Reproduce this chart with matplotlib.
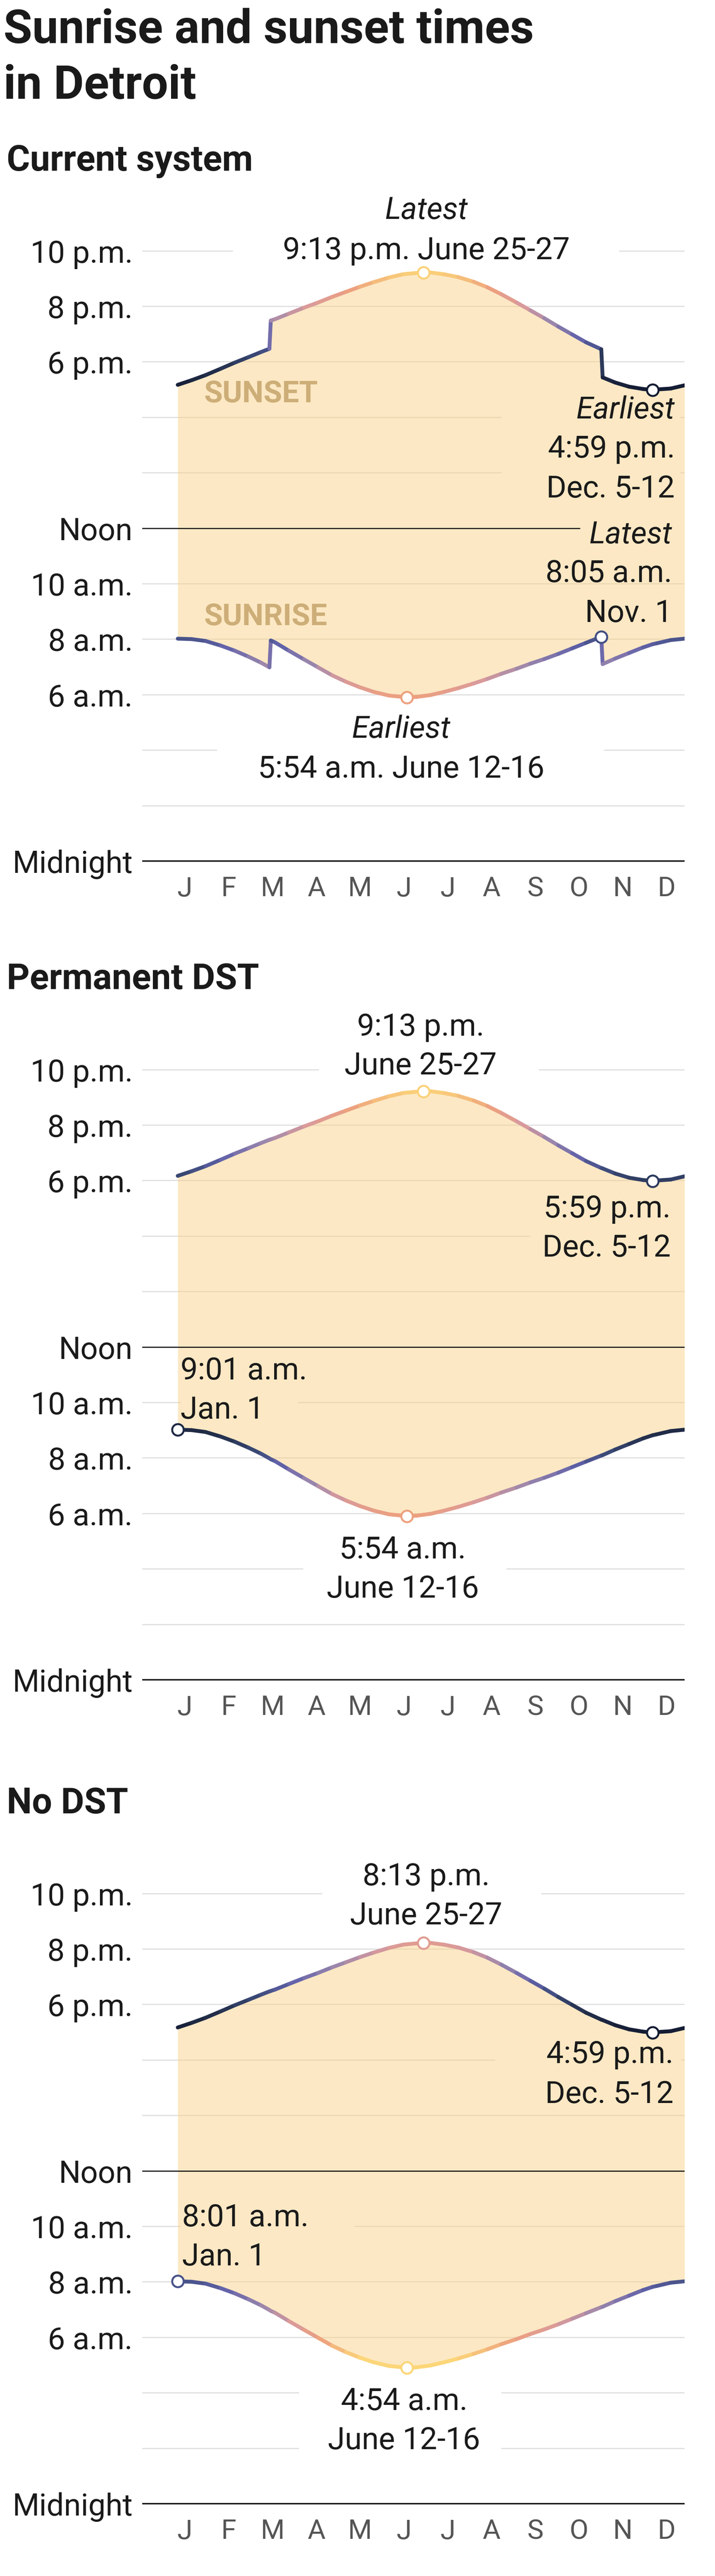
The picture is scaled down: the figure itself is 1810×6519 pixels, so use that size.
import numpy as np
import pandas as pd
import matplotlib
matplotlib.use('Agg')
import matplotlib.pyplot as plt
import matplotlib.dates as mdates
from matplotlib.collections import LineCollection
from matplotlib.colors import LinearSegmentedColormap, Normalize

plt.rcParams['font.family'] = ['Roboto', 'DejaVu Sans']

# Data: Detroit sunrise / sunset in standard time (EST)
dates = ['2020-01-01', '2020-01-11', '2020-01-21', '2020-02-01', '2020-02-11', '2020-02-21',
         '2020-03-01', '2020-03-07', '2020-03-08', '2020-03-11', '2020-03-21', '2020-04-01',
         '2020-04-11', '2020-04-21', '2020-05-01', '2020-05-11', '2020-05-21', '2020-06-01',
         '2020-06-11', '2020-06-14', '2020-06-21', '2020-06-26', '2020-07-01', '2020-07-11',
         '2020-07-21', '2020-08-01', '2020-08-11', '2020-08-21', '2020-09-01', '2020-09-11',
         '2020-09-21', '2020-10-01', '2020-10-11', '2020-10-21', '2020-11-01', '2020-11-02',
         '2020-11-11', '2020-11-21', '2020-12-01', '2020-12-08', '2020-12-11', '2020-12-21',
         '2020-12-31']
sunrise_est = ['8:01', '8:00', '7:56', '7:46', '7:35', '7:22',
               '7:09', '6:59', '6:57', '6:53', '6:35', '6:16',
               '5:59', '5:42', '5:28', '5:16', '5:06', '4:58',
               '4:55', '4:54', '4:55', '4:57', '4:59', '5:06',
               '5:14', '5:24', '5:34', '5:45', '5:56', '6:07',
               '6:17', '6:28', '6:40', '6:52', '7:05', '7:06',
               '7:18', '7:30', '7:42', '7:49', '7:51', '7:58',
               '8:01']
sunset_est = ['17:10', '17:20', '17:31', '17:45', '17:58', '18:10',
              '18:21', '18:28', '18:29', '18:32', '18:44', '18:57',
              '19:08', '19:20', '19:31', '19:42', '19:52', '20:02',
              '20:09', '20:10', '20:12', '20:13', '20:13', '20:09',
              '20:03', '19:53', '19:41', '19:26', '19:08', '18:51',
              '18:34', '18:16', '17:59', '17:42', '17:27', '17:26',
              '17:15', '17:06', '17:01', '16:59', '17:00', '17:02',
              '17:09']
dst_start = '2020-03-08'
dst_end = '2020-11-01'

month_labels = ['J', 'F', 'M', 'A', 'M', 'J', 'J', 'A', 'S', 'O', 'N', 'D']
hour_ticks = [22, 20, 18, 12, 10, 8, 6, 0]
hour_labels = ['10 p.m.', '8 p.m.', '6 p.m.', 'Noon', '10 a.m.', '8 a.m.', '6 a.m.', 'Midnight']


def to_hours(s):
    h, m = s.split(':')
    return int(h) + int(m) / 60


t = pd.to_datetime(dates)
x = mdates.date2num(t)
rise = np.array([to_hours(s) for s in sunrise_est])
sset = np.array([to_hours(s) for s in sunset_est])
in_dst = ((t >= pd.Timestamp(dst_start)) & (t <= pd.Timestamp(dst_end))).astype(float)

panels = [
    ('Current system', rise + in_dst, sset + in_dst),
    ('Permanent DST', rise + 1, sset + 1),
    ('No DST', rise, sset),
]

# circles: (which curve, date)
circles = [
    [('set', '2020-06-26'), ('set', '2020-12-08'), ('rise', '2020-06-14'), ('rise', '2020-11-01')],
    [('set', '2020-06-26'), ('set', '2020-12-08'), ('rise', '2020-01-01'), ('rise', '2020-06-14')],
    [('set', '2020-06-26'), ('set', '2020-12-08'), ('rise', '2020-01-01'), ('rise', '2020-06-14')],
]

# annotation blocks: x date, alignment, [(text, y, italic)]
notes = [
    [('2020-06-28', 'center', [('Latest', 23.15, True), ('9:13 p.m. June 25-27', 21.70, False)]),
     ('2020-12-24', 'right', [('Earliest', 15.96, True), ('4:59 p.m.', 14.54, False), ('Dec. 5-12', 13.10, False)]),
     ('2020-12-22', 'right', [('Latest', 11.45, True), ('8:05 a.m.', 10.05, False), ('Nov. 1', 8.62, False)]),
     ('2020-06-10', 'center', [('Earliest', 4.44, True), ('5:54 a.m. June 12-16', 3.01, False)])],
    [('2020-06-24', 'center', [('9:13 p.m.', 23.22, False), ('June 25-27', 21.83, False)]),
     ('2020-12-21', 'right', [('5:59 p.m.', 16.67, False), ('Dec. 5-12', 15.25, False)]),
     ('2020-01-03', 'left', [('9:01 a.m.', 10.82, False), ('Jan. 1', 9.42, False)]),
     ('2020-06-11', 'center', [('5:54 a.m.', 4.37, False), ('June 12-16', 2.96, False)])],
    [('2020-06-28', 'center', [('8:13 p.m.', 22.29, False), ('June 25-27', 20.89, False)]),
     ('2020-12-23', 'right', [('4:59 p.m.', 15.89, False), ('Dec. 5-12', 14.44, False)]),
     ('2020-01-04', 'left', [('8:01 a.m.', 10.0, False), ('Jan. 1', 8.59, False)]),
     ('2020-06-12', 'center', [('4:54 a.m.', 3.37, False), ('June 12-16', 1.96, False)])],
]

# gaps in gridlines behind labels (axes fraction)
grid_gaps = [
    {22: [(0.166, 0.880)], 16: [(0.661, 0.993)], 14: [(0.661, 0.993)], 12: [(0.806, 1.0)],
     4: [(0.137, 0.852)]},
    {22: [(0.325, 0.732)], 16: [(0.714, 1.0)], 10: [(0.070, 0.288)], 4: [(0.296, 0.672)]},
    {22: [(0.331, 0.736)], 16: [(0.650, 0.994)], 10: [(0.070, 0.392)], 4: [(0.288, 0.663)],
     2: [(0.288, 0.663)]},
]

# layout (pixels of the 1810 x 6519 output)
W, H = 1810, 6519
HOUR = 70.2
midnights = [2179, 4251, 6336]
ax_left, ax_right = 360, 1733

stops = [(17.0, '#141c33'), (17.8, '#26324f'), (18.3, '#3b4a78'), (18.8, '#6262aa'),
         (19.4, '#9a86ac'), (20.0, '#d89a9c'), (20.6, '#eda07f'), (21.3, '#fcd678')]
vmin, vmax = stops[0][0], stops[-1][0]
cmap = LinearSegmentedColormap.from_list(
    'daylight', [((v - vmin) / (vmax - vmin), c) for v, c in stops])
norm = Normalize(vmin, vmax, clip=True)


def shade(kind, y):
    # later sunsets and earlier sunrises get warmer colours
    v = y if kind == 'set' else 26.5 - y
    return cmap(norm(v))


def gradient_line(ax, xs, ys, kind):
    pts = np.column_stack([xs, ys])
    segs = np.stack([pts[:-1], pts[1:]], axis=1)
    mid = (ys[:-1] + ys[1:]) / 2
    lc = LineCollection(segs, colors=[shade(kind, m) for m in mid], linewidths=7,
                        capstyle='round', joinstyle='round', zorder=5)
    ax.add_collection(lc)


def grid(ax, gaps):
    for h in range(0, 24, 2):
        if h in (0, 12):
            kw = dict(color='#111111', lw=2.6 if h == 0 else 2.0, zorder=3)
        else:
            kw = dict(color='#dcdcdc', lw=1.9, zorder=1)
        start = 0
        for g0, g1 in gaps.get(h, []):
            if g0 > start:
                ax.axhline(h, start, g0, **kw)
            start = g1
        if start < 1:
            ax.axhline(h, start, 1, **kw)


fig = plt.figure(figsize=(W / 100, H / 100), dpi=100)
fig.patch.set_facecolor('white')

fig.text(9 / W, 1 - 109 / H, 'Sunrise and sunset times', fontsize=85, fontweight='bold',
         color='#1a1a1a', va='baseline')
fig.text(9 / W, 1 - 250 / H, 'in Detroit', fontsize=85, fontweight='bold',
         color='#1a1a1a', va='baseline')

title_base = [432, 2503, 4589]
x0 = mdates.date2num(pd.Timestamp('2020-01-01'))
x1 = mdates.date2num(pd.Timestamp('2020-12-31'))
px_per_day = (ax_right - 450) / (x1 - x0)
month_x = x0 + np.linspace(5, 352, 12)

for i, (name, r, s) in enumerate(panels):
    bottom = midnights[i] + 1.5 * HOUR
    ax = fig.add_axes([ax_left / W, 1 - bottom / H, (ax_right - ax_left) / W, 25.5 * HOUR / H])
    ax.set_xlim(x0 - (450 - ax_left) / px_per_day, x1)
    ax.set_ylim(-1.5, 24)
    ax.set_axis_off()

    fig.text(17 / W, 1 - title_base[i] / H, name, fontsize=65, fontweight='bold',
             color='#1a1a1a', va='baseline')

    grid(ax, grid_gaps[i])
    ax.fill_between(x, r, s, color='#fbd28a', alpha=0.5, lw=0, zorder=2)

    gradient_line(ax, x, s, 'set')
    gradient_line(ax, x, r, 'rise')

    for kind, d in circles[i]:
        k = list(t).index(pd.Timestamp(d))
        y = s[k] if kind == 'set' else r[k]
        ax.plot(x[k], y, 'o', ms=21, mfc='white', mec=shade(kind, y), mew=3.6, zorder=7)

    for h, lab in zip(hour_ticks, hour_labels):
        ax.text(-0.0175, h - 0.12, lab, transform=ax.get_yaxis_transform(), ha='right',
                va='center', fontsize=56, color='#1a1a1a')

    for mx, m in zip(month_x, month_labels):
        ax.text(mx, -1.0, m, ha='center', va='center', fontsize=50, color='#555555')

    for d, ha, lines in notes[i]:
        xd = mdates.date2num(pd.Timestamp(d))
        for txt, y, it in lines:
            ax.text(xd, y, txt, ha=ha, va='baseline', fontsize=56, color='#1a1a1a',
                    fontstyle='italic' if it else 'normal', zorder=8)

    if i == 0:
        lab_x = mdates.date2num(pd.Timestamp('2020-01-20'))
        ax.text(lab_x, 16.54, 'SUNSET', fontsize=55, fontweight='bold', color='#cdae78',
                va='baseline', ha='left', zorder=8)
        ax.text(lab_x, 8.51, 'SUNRISE', fontsize=55, fontweight='bold', color='#cdae78',
                va='baseline', ha='left', zorder=8)

fig.savefig('out.png', dpi=100, facecolor='white')
